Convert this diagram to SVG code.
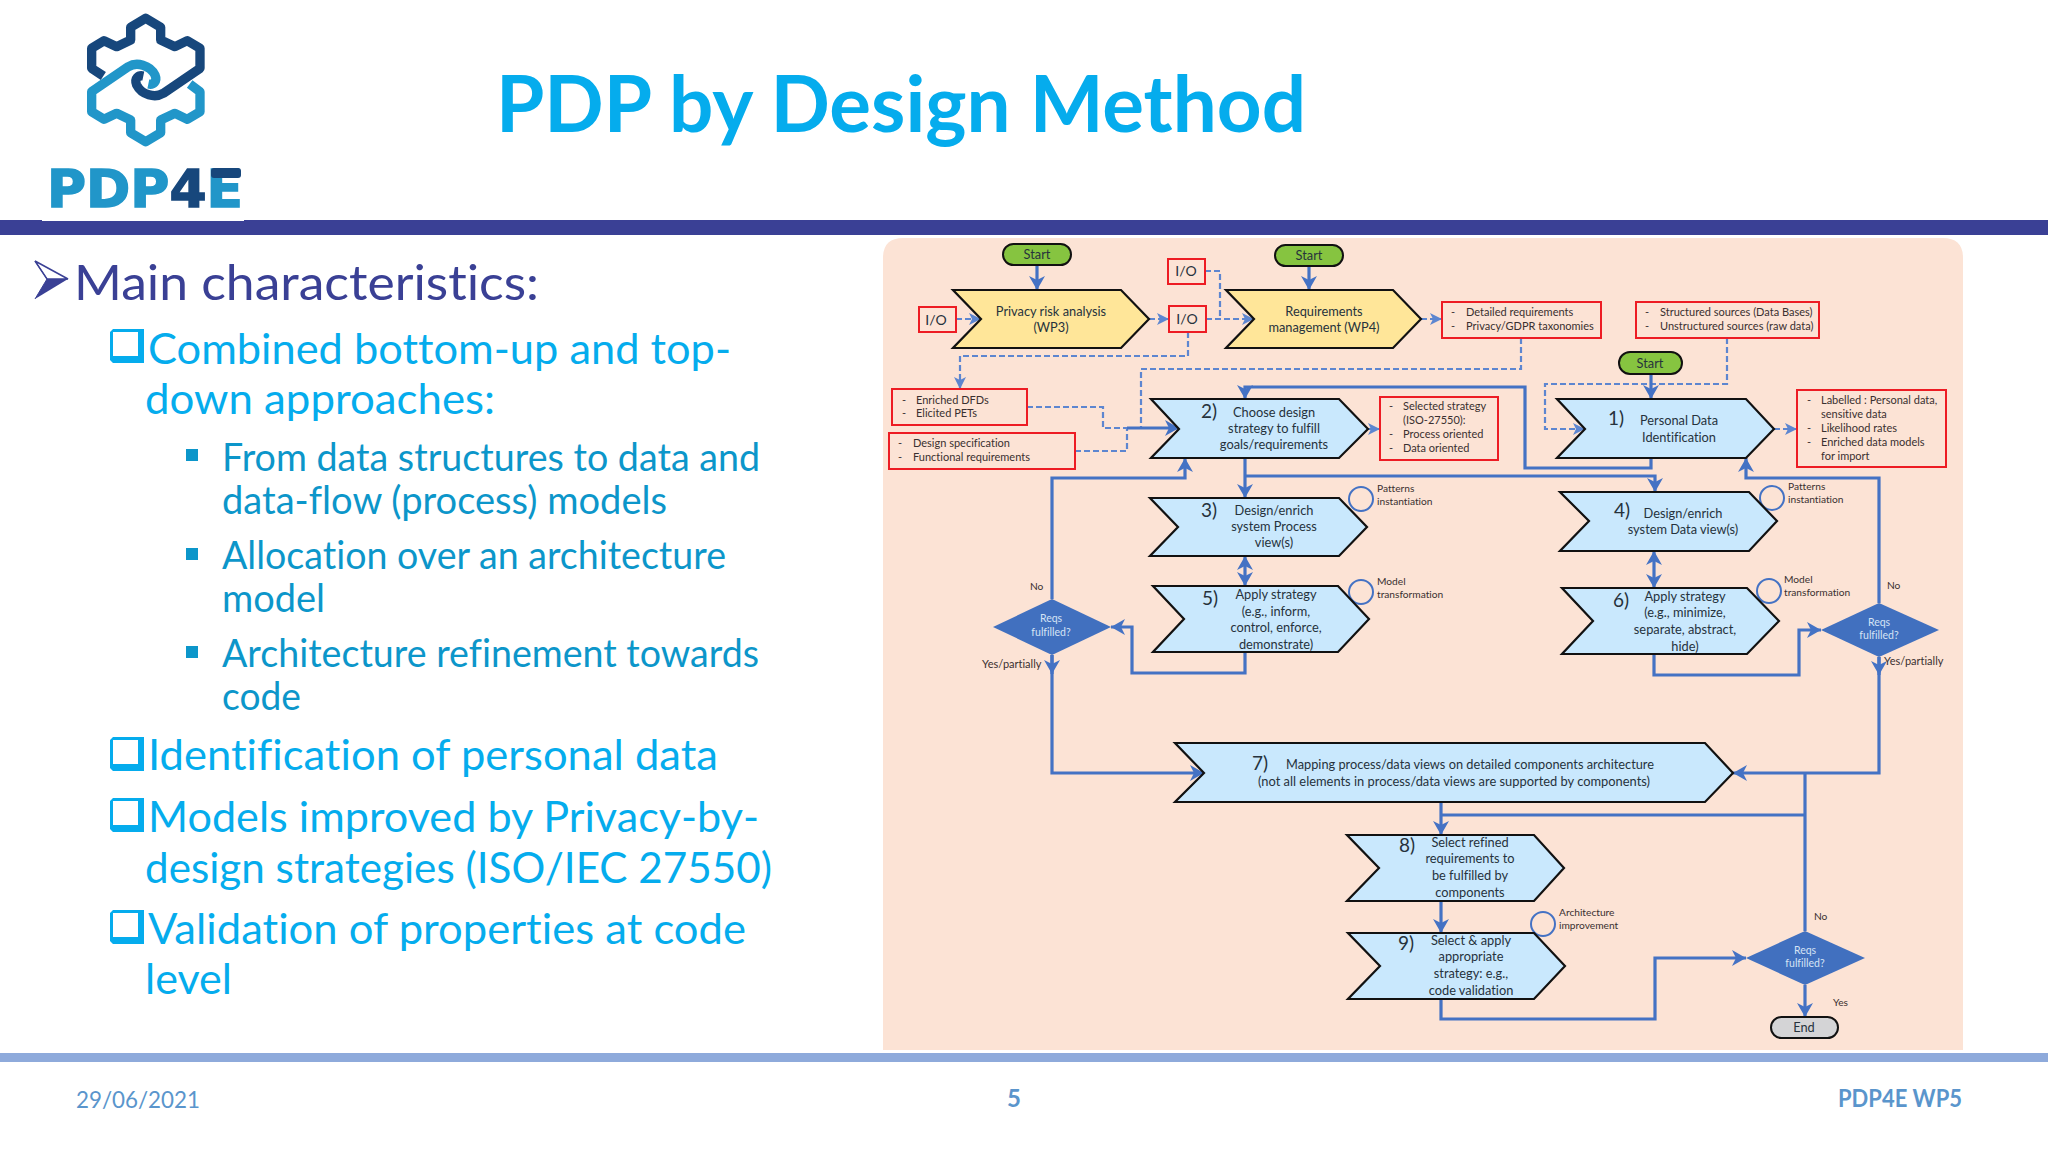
<svg xmlns="http://www.w3.org/2000/svg" width="2048" height="1152" viewBox="0 0 2048 1152">
<style>
text{font-family:Lato,"Open Sans",sans-serif;fill:#26323c;font-variant-ligatures:none}
.sl{fill:#05aced;font-size:43px}
.ss{fill:#0c96ca;font-size:38px}
.c{text-anchor:middle}
.t{font-size:12.8px}
.n{font-size:19px}
.l{font-size:11px;fill:#3a3030}
.lg{font-size:10.2px;fill:#3a3030}
.d{font-size:10.5px;fill:#d5e3f5;text-anchor:middle}
.chev{fill:#c9e8fd;stroke:#111;stroke-width:2.2;stroke-linejoin:miter}
.yel{fill:#ffe699;stroke:#111;stroke-width:2.2}
.red{fill:none;stroke:#ed1c24;stroke-width:2}
.st{fill:#86c440;stroke:#111;stroke-width:2}
.dia{fill:#4170bf}
.w{fill:none;stroke:#4472c4;stroke-width:3.2}
.dsh{fill:none;stroke:#5d86d0;stroke-width:2.2;stroke-dasharray:6 3}
.loop{fill:none;stroke:#4472c4;stroke-width:2}
.sq{fill:#0c96ca}
</style>
<defs>
<marker id="a" markerUnits="userSpaceOnUse" markerWidth="16" markerHeight="18" refX="14" refY="9" orient="auto-start-reverse"><path d="M0,1 L14,9 L0,17 L4,9 z" fill="#4472c4"/></marker>
<marker id="b" markerUnits="userSpaceOnUse" markerWidth="14" markerHeight="14" refX="12" refY="7" orient="auto"><path d="M0,1 L12,7 L0,13 L3,7 z" fill="#5d86d0"/></marker>
<path id="box" fill="#05aced" fill-rule="evenodd" d="M110,3 L113,0 H144 V34 H113 L110,31 Z M113,3 V27 H138 V3 Z"/>
</defs>
<rect width="2048" height="1152" fill="#fff"/>
<g id="logo">
<g transform="scale(.33333)" fill="none" stroke-width="28" stroke-linejoin="round" stroke-linecap="butt">
<path stroke="#17477c" d="M310,228 L275,205 L275,145 L312,122 L350,140 L392,120 L392,82 L437,55 L482,82 L482,120 L525,140 L562,122 L600,145 L600,205 L490,280 C465,295 425,285 410,255 C402,235 415,225 430,228"/>
<path stroke="#2196c9" d="M569,252 L600,275 L600,335 L562,358 L525,340 L482,360 L482,398 L437,425 L392,398 L392,360 L350,340 L312,358 L275,335 L275,275 L385,200 C410,185 450,195 465,225 C473,245 460,255 445,252"/>
</g>
<text x="47" y="207" style="font-family:'DejaVu Sans',sans-serif;font-weight:700;font-size:52px;fill:#2196c9;stroke:#2196c9;stroke-width:1.5" textLength="196" lengthAdjust="spacingAndGlyphs">PDP<tspan style="fill:#17477c;stroke:#17477c">4</tspan>E</text>
<rect x="211" y="168" width="30" height="10" rx="3" fill="#17477c"/>
</g>
<rect x="0" y="220" width="2048" height="15" fill="#3a4095"/>
<rect x="42" y="218" width="202" height="3" fill="#fff"/>
<text id="title" x="496" y="132" style="font-weight:700;font-size:79px;fill:#05aced" textLength="810" lengthAdjust="spacingAndGlyphs">PDP by Design Method</text>
<g id="slide-text">
<path d="M35,299 L68,279 L47,279 z" fill="#3a4095"/><path d="M35,261 L68,279 L47,279 z" fill="#fff" stroke="#3a4095" stroke-width="1.5"/><path d="M35,299 L47,279 L35,261" fill="none" stroke="#3a4095" stroke-width="1"/>
<text x="74" y="300" style="font-size:49px;fill:#3a4095" textLength="465" lengthAdjust="spacingAndGlyphs">Main characteristics:</text>
<use href="#box" y="329"/>
<text class="sl" x="148" y="364" textLength="583" lengthAdjust="spacingAndGlyphs">Combined bottom-up and top-</text>
<text class="sl" x="145" y="414" textLength="350" lengthAdjust="spacingAndGlyphs">down approaches:</text>
<rect class="sq" x="186" y="449" width="12" height="12"/>
<text class="ss" x="222" y="471" textLength="538" lengthAdjust="spacingAndGlyphs">From data structures to data and</text>
<text class="ss" x="222" y="514" textLength="445" lengthAdjust="spacingAndGlyphs">data-flow (process) models</text>
<rect class="sq" x="186" y="548" width="12" height="12"/>
<text class="ss" x="222" y="569" textLength="504" lengthAdjust="spacingAndGlyphs">Allocation over an architecture</text>
<text class="ss" x="222" y="612" textLength="103" lengthAdjust="spacingAndGlyphs">model</text>
<rect class="sq" x="186" y="646" width="12" height="12"/>
<text class="ss" x="222" y="667" textLength="537" lengthAdjust="spacingAndGlyphs">Architecture refinement towards</text>
<text class="ss" x="222" y="710" textLength="79" lengthAdjust="spacingAndGlyphs">code</text>
<use href="#box" y="737"/>
<text class="sl" x="148" y="770" textLength="570" lengthAdjust="spacingAndGlyphs">Identification of personal data</text>
<use href="#box" y="798"/>
<text class="sl" x="148" y="832" textLength="611" lengthAdjust="spacingAndGlyphs">Models improved by Privacy-by-</text>
<text class="sl" x="145" y="883" textLength="627" lengthAdjust="spacingAndGlyphs">design strategies (ISO/IEC 27550)</text>
<use href="#box" y="910"/>
<text class="sl" x="148" y="944" textLength="598" lengthAdjust="spacingAndGlyphs">Validation of properties at code</text>
<text class="sl" x="145" y="994" textLength="87" lengthAdjust="spacingAndGlyphs">level</text>
</g>
<path id="panel" d="M883,1050 L883,258 Q883,238 903,238 L1943,238 Q1963,238 1963,258 L1963,1050 Z" fill="#fce3d5"/>
<g id="connectors">
<path class="w" marker-end="url(#a)" d="M1037,265 V290"/>
<path class="w" marker-end="url(#a)" d="M1309,266 V290"/>
<path class="dsh" marker-end="url(#b)" d="M956,319 H981"/>
<path class="dsh" marker-end="url(#b)" d="M1149,319 H1169"/>
<path class="dsh" marker-end="url(#b)" d="M1206,319 H1254"/>
<path class="dsh" d="M1205,271 H1220 V318"/>
<path class="dsh" marker-end="url(#b)" d="M1421,319 H1442"/>
<path class="dsh" marker-end="url(#b)" d="M1188,332 V356 H960 V389"/>
<path class="dsh" d="M1027,407 H1103 V428 H1141"/>
<path class="dsh" d="M1075,451 H1127 V428"/>
<path class="dsh" d="M1521,338 V369 H1141 V428"/>
<path class="w" marker-end="url(#a)" d="M1127,428 H1179"/>
<path class="dsh" marker-end="url(#b)" d="M1727,338 V384 H1545 V429 H1585"/>
<path class="w" marker-end="url(#a)" d="M1651,374 V399"/>
<path class="dsh" marker-end="url(#b)" d="M1774,429 H1797"/>
<path class="dsh" marker-end="url(#b)" d="M1368,429 H1380"/>
<path class="w" marker-end="url(#a)" d="M1651,458 V468 H1525 V387 H1245 V399"/>
<path class="w" marker-end="url(#a)" d="M1245,458 V498"/>
<path class="w" marker-end="url(#a)" d="M1245,476 H1655 V492"/>
<path class="w" marker-end="url(#a)" d="M1052,599 V478 H1185 V458"/>
<path class="w" marker-end="url(#a)" d="M1245,652 V673 H1132 V627 H1111"/>
<path class="w" marker-start="url(#a)" marker-end="url(#a)" d="M1245,556 V586"/>
<path class="w" marker-start="url(#a)" marker-end="url(#a)" d="M1654,551 V588"/>
<path class="w" marker-end="url(#a)" d="M1052,655 V773 H1204"/>
<path class="w" marker-end="url(#a)" d="M1052,655 V674"/>
<path class="w" marker-end="url(#a)" d="M1654,654 V675 H1799 V630 H1821"/>
<path class="w" marker-end="url(#a)" d="M1879,603 V478 H1746 V458"/>
<path class="w" marker-end="url(#a)" d="M1879,657 V773 H1733"/>
<path class="w" marker-end="url(#a)" d="M1879,657 V675"/>
<path class="w" d="M1805,773 V931"/>
<path class="w" marker-end="url(#a)" d="M1441,802 V835"/>
<path class="w" d="M1441,815 H1805"/>
<path class="w" marker-end="url(#a)" d="M1441,901 V933"/>
<path class="w" marker-end="url(#a)" d="M1441,999 V1019 H1655 V958 H1746"/>
<path class="w" marker-end="url(#a)" d="M1805,985 V1017"/>
<circle class="loop" cx="1361" cy="499" r="12"/>
<circle class="loop" cx="1772" cy="498" r="12"/>
<circle class="loop" cx="1361" cy="592" r="12"/>
<circle class="loop" cx="1769" cy="591" r="12"/>
<circle class="loop" cx="1543" cy="924" r="12"/>
</g>
<g id="start1"><rect class="st" x="1003" y="244" width="68" height="21" rx="10.5"/><text class="t c" x="1037" y="259">Start</text></g>
<g id="start2"><rect class="st" x="1275" y="245" width="68" height="21" rx="10.5"/><text class="t c" x="1309" y="260">Start</text></g>
<g id="start3"><rect class="st" x="1619" y="352" width="63" height="22" rx="11"/><text class="t c" x="1650" y="368">Start</text></g>
<g id="privacy"><path class="yel" d="M953,290 H1121 L1149,319 L1121,348 H953 L981,319 Z"/><text class="t c" x="1051" y="316">Privacy risk analysis</text><text class="t c" x="1051" y="332">(WP3)</text></g>
<g id="requirements"><path class="yel" d="M1226,290 H1393 L1421,319 L1393,348 H1226 L1254,319 Z"/><text class="t c" x="1324" y="316">Requirements</text><text class="t c" x="1324" y="332">management (WP4)</text></g>
<g id="io1"><rect class="red" x="919" y="307" width="37" height="25"/><text class="c" style="font-size:14px" x="936" y="325">I/O</text></g>
<g id="io2"><rect class="red" x="1168" y="259" width="37" height="25"/><text class="c" style="font-size:14px" x="1186" y="276">I/O</text></g>
<g id="io3"><rect class="red" x="1169" y="306" width="37" height="26"/><text class="c" style="font-size:14px" x="1187" y="324">I/O</text></g>
<g id="out-detailed"><rect class="red" x="1442" y="302" width="159" height="36"/><text class="l" x="1451" y="316">-</text><text class="l" x="1466" y="316">Detailed requirements</text><text class="l" x="1451" y="330">-</text><text class="l" x="1466" y="330">Privacy/GDPR taxonomies</text></g>
<g id="out-structured"><rect class="red" x="1636" y="302" width="183" height="36"/><text class="l" x="1645" y="316">-</text><text class="l" x="1660" y="316">Structured sources (Data Bases)</text><text class="l" x="1645" y="330">-</text><text class="l" x="1660" y="330">Unstructured sources (raw data)</text></g>
<g id="out-labelled"><rect class="red" x="1797" y="390" width="149" height="77"/><text class="l" x="1807" y="404">-</text><text class="l" x="1821" y="404">Labelled : Personal data,</text><text class="l" x="1821" y="418">sensitive data</text><text class="l" x="1807" y="432">-</text><text class="l" x="1821" y="432">Likelihood rates</text><text class="l" x="1807" y="446">-</text><text class="l" x="1821" y="446">Enriched data models</text><text class="l" x="1821" y="460">for import</text></g>
<g id="out-dfds"><rect class="red" x="892" y="389" width="135" height="36"/><text class="l" x="902" y="404">-</text><text class="l" x="916" y="404">Enriched DFDs</text><text class="l" x="902" y="417">-</text><text class="l" x="916" y="417">Elicited PETs</text></g>
<g id="out-spec"><rect class="red" x="889" y="433" width="186" height="36"/><text class="l" x="898" y="447">-</text><text class="l" x="913" y="447">Design specification</text><text class="l" x="898" y="461">-</text><text class="l" x="913" y="461">Functional requirements</text></g>
<g id="out-selected"><rect class="red" x="1380" y="397" width="118" height="63"/><text class="l" x="1389" y="410">-</text><text class="l" x="1403" y="410">Selected strategy</text><text class="l" x="1403" y="424">(ISO-27550):</text><text class="l" x="1389" y="438">-</text><text class="l" x="1403" y="438">Process oriented</text><text class="l" x="1389" y="452">-</text><text class="l" x="1403" y="452">Data oriented</text></g>
<g id="step2"><path class="chev" d="M1151,399 H1339 L1368,429 L1339,458 H1151 L1179,429 Z"/><text class="n" x="1201" y="418">2)</text><text class="t c" x="1274" y="417">Choose design</text><text class="t c" x="1274" y="433">strategy to fulfill</text><text class="t c" x="1274" y="449">goals/requirements</text></g>
<g id="step3"><path class="chev" d="M1150,498 H1339 L1367,527 L1339,556 H1150 L1178,527 Z"/><text class="n" x="1201" y="517">3)</text><text class="t c" x="1274" y="515">Design/enrich</text><text class="t c" x="1274" y="531">system Process</text><text class="t c" x="1274" y="547">view(s)</text></g>
<g id="step1"><path class="chev" d="M1557,399 H1746 L1774,429 L1746,458 H1557 L1585,429 Z"/><text class="n" x="1608" y="425">1)</text><text class="t c" x="1679" y="425">Personal Data</text><text class="t c" x="1679" y="442">Identification</text></g>
<g id="step4"><path class="chev" d="M1560,492 H1749 L1777,521 L1749,551 H1560 L1589,521 Z"/><text class="n" x="1614" y="517">4)</text><text class="t c" x="1683" y="518">Design/enrich</text><text class="t c" x="1683" y="534">system Data view(s)</text></g>
<g id="step5"><path class="chev" d="M1153,586 H1338 L1369,619 L1338,652 H1153 L1184,619 Z"/><text class="n" x="1202" y="605">5)</text><text class="t c" x="1276" y="599">Apply strategy</text><text class="t c" x="1276" y="616">(e.g., inform,</text><text class="t c" x="1276" y="632">control, enforce,</text><text class="t c" x="1276" y="649">demonstrate)</text></g>
<g id="step6"><path class="chev" d="M1562,588 H1747 L1779,621 L1747,654 H1562 L1593,621 Z"/><text class="n" x="1613" y="607">6)</text><text class="t c" x="1685" y="601">Apply strategy</text><text class="t c" x="1685" y="617">(e.g., minimize,</text><text class="t c" x="1685" y="634">separate, abstract,</text><text class="t c" x="1685" y="651">hide)</text></g>
<g id="step7"><path class="chev" d="M1175,743 H1705 L1733,773 L1705,802 H1175 L1204,773 Z"/><text class="n" x="1252" y="770">7)</text><text class="t" x="1286" y="769" textLength="368" lengthAdjust="spacingAndGlyphs">Mapping process/data views on detailed components  architecture</text><text class="t" x="1258" y="786" textLength="392" lengthAdjust="spacingAndGlyphs">(not all elements in process/data views are supported by components)</text></g>
<g id="step8"><path class="chev" d="M1347,835 H1534 L1564,868 L1534,901 H1347 L1379,868 Z"/><text class="n" x="1399" y="852">8)</text><text class="t c" x="1470" y="847">Select refined</text><text class="t c" x="1470" y="863">requirements to</text><text class="t c" x="1470" y="880">be fulfilled by</text><text class="t c" x="1470" y="897">components</text></g>
<g id="step9"><path class="chev" d="M1348,933 H1534 L1565,966 L1534,999 H1348 L1380,966 Z"/><text class="n" x="1398" y="950">9)</text><text class="t c" x="1471" y="945">Select &amp; apply</text><text class="t c" x="1471" y="961">appropriate</text><text class="t c" x="1471" y="978">strategy: e.g.,</text><text class="t c" x="1471" y="995">code validation</text></g>
<g id="decision1"><path class="dia" d="M993,627 L1052,599 L1111,627 L1052,655 Z"/><text class="d" x="1051" y="622">Reqs</text><text class="d" x="1051" y="636">fulfilled?</text></g>
<g id="decision2"><path class="dia" d="M1821,630 L1879,603 L1939,630 L1879,657 Z"/><text class="d" x="1879" y="626">Reqs</text><text class="d" x="1879" y="639">fulfilled?</text></g>
<g id="decision3"><path class="dia" d="M1746,958 L1805,931 L1865,958 L1805,985 Z"/><text class="d" x="1805" y="954">Reqs</text><text class="d" x="1805" y="967">fulfilled?</text></g>
<g id="end"><rect x="1771" y="1017" width="67" height="21" rx="10.5" fill="#d4d4d6" stroke="#111" stroke-width="2"/><text class="t c" x="1804" y="1032">End</text></g>
<g id="labels">
<text class="lg" x="1377" y="492">Patterns</text><text class="lg" x="1377" y="505">instantiation</text>
<text class="lg" x="1788" y="490">Patterns</text><text class="lg" x="1788" y="503">instantiation</text>
<text class="lg" x="1377" y="585">Model</text><text class="lg" x="1377" y="598">transformation</text>
<text class="lg" x="1784" y="583">Model</text><text class="lg" x="1784" y="596">transformation</text>
<text class="lg" x="1559" y="916">Architecture</text><text class="lg" x="1559" y="929">improvement</text>
<text class="lg" x="1030" y="590">No</text><text class="l" x="982" y="668">Yes/partially</text>
<text class="lg" x="1887" y="589">No</text><text class="l" x="1884" y="665">Yes/partially</text>
<text class="lg" x="1814" y="920">No</text><text class="lg" x="1833" y="1006">Yes</text>
</g>
<rect id="bottom-bar" x="0" y="1053" width="2048" height="9" fill="#8eaadb"/>
<g id="footer">
<text x="76" y="1108" style="font-size:24px;fill:#5a95cc" textLength="124" lengthAdjust="spacingAndGlyphs">29/06/2021</text>
<text x="1014" y="1107" class="c" style="font-size:24px;font-weight:700;fill:#5a95cc">5</text>
<text x="1838" y="1107" style="font-size:24px;font-weight:700;fill:#5a95cc" textLength="124" lengthAdjust="spacingAndGlyphs">PDP4E WP5</text>
</g>
</svg>
